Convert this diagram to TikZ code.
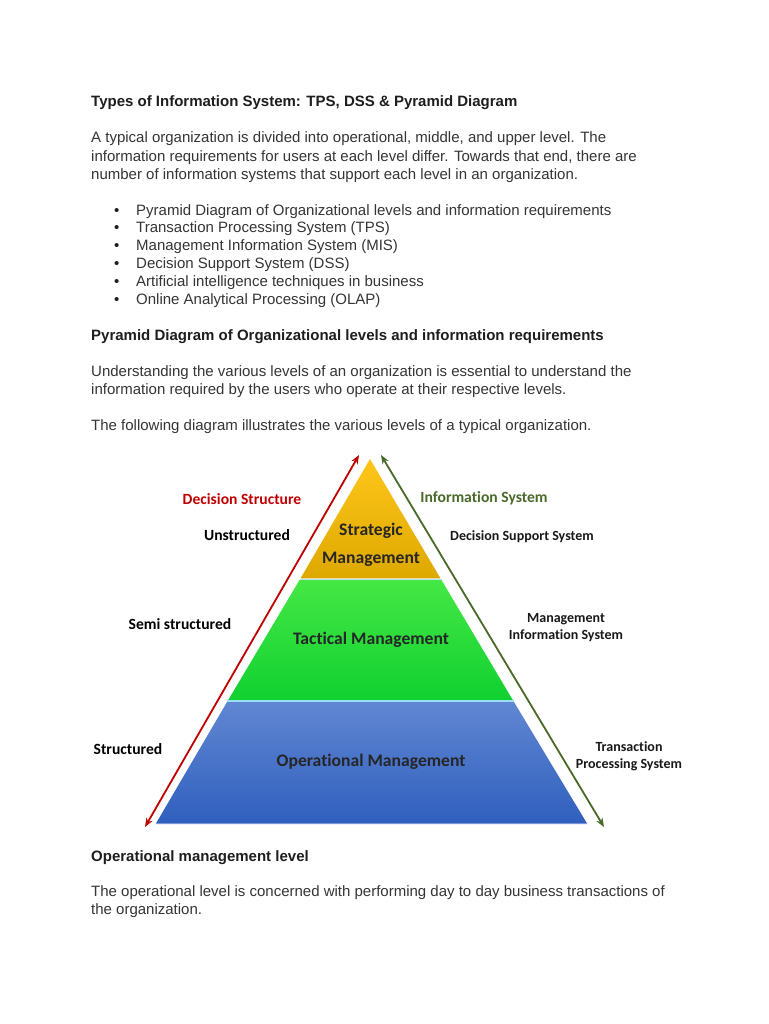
\documentclass[tikz,border=0pt]{standalone}
\usepackage{fontspec}
\setmainfont{Liberation Sans}
\newfontfamily\calfont[Ligatures=NoCommon]{Carlito}
\usetikzlibrary{arrows.meta}
\definecolor{bodytxt}{HTML}{353535}
\definecolor{headtxt}{HTML}{1E1E1E}
\definecolor{dsred}{HTML}{C00000}
\definecolor{isgreen}{HTML}{4A6A2A}
\definecolor{stratTop}{HTML}{FFC61A}
\definecolor{stratBot}{HTML}{DDA800}
\definecolor{tactTop}{HTML}{45E845}
\definecolor{tactBot}{HTML}{10D030}
\definecolor{operTop}{HTML}{6187D2}
\definecolor{operBot}{HTML}{2F5FBE}
\tikzset{
  body/.style={anchor=base west, inner sep=0pt, font=\fontsize{15}{17}\selectfont, text=bodytxt},
  head/.style={anchor=base west, inner sep=0pt, font=\fontsize{15}{17}\selectfont\bfseries, text=headtxt},
  bul/.style={anchor=base west, inner sep=0pt, font=\fontsize{15}{17}\selectfont, text=headtxt},
  lvl/.style={inner sep=0pt, align=center, font=\calfont\fontsize{17.6}{28}\selectfont\bfseries, text=black!85},
  side/.style={inner sep=0pt, align=center, font=\calfont\fontsize{15.6}{17}\selectfont\bfseries, text=black},
  sidesm/.style={inner sep=0pt, align=center, font=\calfont\fontsize{14}{17}\selectfont\bfseries, text=black!90},
  dsarrow/.style={draw=dsred, line width=1.8pt, {Stealth[length=9pt,width=7pt]}-{Stealth[length=9pt,width=7pt]}},
  isarrow/.style={draw=isgreen, line width=1.8pt, {Stealth[length=9pt,width=7pt]}-{Stealth[length=9pt,width=7pt]}},
  band/.style={draw=white, line width=0.8pt}
}
\begin{document}
\begin{tikzpicture}[x=1pt,y=-1pt]
\useasboundingbox (0,0) rectangle (768,1024);
\fill[white] (0,0) rectangle (768,1024);

% --- text block ---
\node[head] (title) at (91,107) {Types of Information System: TPS, DSS \& Pyramid Diagram};
\node[body] (p1a) at (91,143) {A typical organization is divided into operational, middle, and upper level. The};
\node[body] (p1b) at (91,162) {information requirements for users at each level differ. Towards that end, there are};
\node[body] (p1c) at (91,180) {number of information systems that support each level in an organization.};

\foreach \i/\t in {0/Pyramid Diagram of Organizational levels and information requirements,
                   1/Transaction Processing System (TPS),
                   2/Management Information System (MIS),
                   3/Decision Support System (DSS),
                   4/Artificial intelligence techniques in business,
                   5/Online Analytical Processing (OLAP)}{
  \node[bul] (b\i) at (114,215+17.9*\i) {\textbullet};
  \node[body] (l\i) at (136,215+17.9*\i) {\t};
}

\node[head] (h2) at (91,340) {Pyramid Diagram of Organizational levels and information requirements};
\node[body] (p2a) at (91,376) {Understanding the various levels of an organization is essential to understand the};
\node[body] (p2b) at (91,394) {information required by the users who operate at their respective levels.};
\node[body] (p3) at (91,430) {The following diagram illustrates the various levels of a typical organization.};

% --- pyramid ---
\coordinate (apex) at (370,458);
\coordinate (sL) at (299.5,579);
\coordinate (sR) at (441.5,579);
\coordinate (tL) at (227,701);
\coordinate (tR) at (514,701);
\coordinate (oL) at (155,824);
\coordinate (oR) at (588,824);

\path[band, top color=stratTop, bottom color=stratBot] (apex) -- (sR) -- (sL) -- cycle;
\path[band, top color=tactTop, bottom color=tactBot] (sL) -- (sR) -- (tR) -- (tL) -- cycle;
\path[band, top color=operTop, bottom color=operBot] (tL) -- (tR) -- (oR) -- (oL) -- cycle;
\draw[white!70!cyan, line width=1pt] (sL) -- (sR);
\draw[white!60!cyan, line width=1.2pt] (tL) -- (tR);

\node[lvl] (strat) at (371,545) {Strategic\\Management};
\node[lvl] (tact) at (371,640) {Tactical Management};
\node[lvl] (oper) at (371,762) {Operational Management};

% --- arrows ---
\coordinate (dsBot) at (145,827);
\coordinate (dsTop) at (359,455);
\coordinate (isTop) at (381,455);
\coordinate (isBot) at (604,827);
\draw[dsarrow] (dsBot) -- (dsTop);
\draw[isarrow] (isBot) -- (isTop);

% --- side labels ---
\node[side, text=dsred] (ds) at (242,499) {Decision Structure};
\node[side, text=isgreen] (is) at (484,498) {Information System};
\node[side] (uns) at (247,535) {Unstructured};
\node[sidesm] (dss) at (522,537) {Decision Support System};
\node[side] (semi) at (180,624) {Semi structured};
\node[sidesm] (mis) at (566,628) {Management\\Information System};
\node[side] (str) at (128,749) {Structured};
\node[sidesm] (tps) at (629,756) {Transaction\\Processing System};

% --- bottom text ---
\node[head] (h3) at (91,861) {Operational management level};
\node[body] (p4a) at (91,896) {The operational level is concerned with performing day to day business transactions of};
\node[body] (p4b) at (91,914) {the organization.};
\end{tikzpicture}
\end{document}
